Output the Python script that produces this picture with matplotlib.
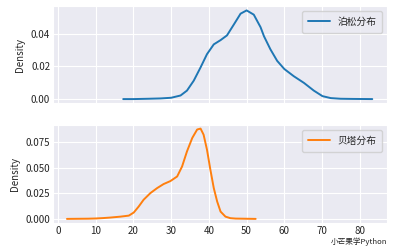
import matplotlib
matplotlib.use("Agg")
import matplotlib.pyplot as plt
import seaborn as sns

sns.set_style("darkgrid")
plt.rcParams['font.family'] = ['Noto Sans CJK SC', 'DejaVu Sans']
plt.rcParams['axes.unicode_minus'] = False

# KDE curve of the Poisson sample
poisson_x = [17.3, 20, 24, 27.2, 30, 32.5, 34.2, 36, 37.8, 39.5, 41.3, 43.1,
             44.8, 46.6, 48.4, 50, 51.9, 53.7, 54.6, 56.3, 58.1, 60, 62.5,
             65.2, 67.8, 70.1, 72.3, 74.9, 78, 83.3]
poisson_y = [0.0, 0.0, 0.0002, 0.0004, 0.0008, 0.0022, 0.0052, 0.0113, 0.0194,
             0.0275, 0.0335, 0.0361, 0.0390, 0.0456, 0.0523, 0.0543, 0.0517,
             0.0440, 0.0385, 0.0305, 0.0234, 0.0184, 0.0140, 0.0099, 0.0052,
             0.0018, 0.0006, 0.0002, 0.0001, 0.0]

# KDE curve of the Beta sample
beta_x = [2.4, 5, 8, 10, 12, 13.9, 16.6, 18.8, 20.1, 21.4, 22.7, 24.5, 26.3,
          28, 29.8, 31.6, 32.9, 34.2, 35.6, 36.9, 37.8, 38.6, 39.5, 40.4,
          41.3, 42.2, 43.1, 44.4, 45.7, 47.1, 52.4]
beta_y = [0.0, 0.0001, 0.0002, 0.0004, 0.0008, 0.0013, 0.0022, 0.0032, 0.0062,
          0.0120, 0.0186, 0.0251, 0.0300, 0.0339, 0.0368, 0.0413, 0.0510,
          0.0657, 0.0788, 0.0870, 0.0879, 0.0820, 0.0674, 0.0479, 0.0300,
          0.0169, 0.0071, 0.0022, 0.0007, 0.0003, 0.0]

labels = ['泊松分布', '贝塔分布']
x_ticks = [0, 10, 20, 30, 40, 50, 60, 70, 80]
y_ticks_top = [0.00, 0.02, 0.04]
y_ticks_bottom = [0.000, 0.025, 0.050, 0.075]

fig = plt.figure(figsize=(3.93, 2.46), dpi=100)
W, H = 393, 246
ax1 = fig.add_axes([53 / W, 1 - 103 / H, 334 / W, 97 / H])
ax2 = fig.add_axes([53 / W, 1 - 223 / H, 334 / W, 98 / H], sharex=ax1)

ax1.plot(poisson_x, poisson_y, color='#1f77b4', lw=1.4, label=labels[0],
         solid_joinstyle='round')
ax2.plot(beta_x, beta_y, color='#ff7f0e', lw=1.4, label=labels[1],
         solid_joinstyle='round')

ax1.set_xlim(-1.3, 87.2)
ax1.set_ylim(-0.0024, 0.057)
ax2.set_ylim(-0.0040, 0.0914)
ax1.set_xticks(x_ticks)
ax1.set_yticks(y_ticks_top)
ax1.set_yticklabels(['0.00', '0.02', '0.04'])
ax2.set_yticks(y_ticks_bottom)
ax2.set_yticklabels(['0.000', '0.025', '0.050', '0.075'])
plt.setp(ax1.get_xticklabels(), visible=False)

for ax in (ax1, ax2):
    ax.tick_params(labelsize=7, pad=2, length=0)
    ax.set_ylabel('Density', fontsize=7, labelpad=4)
    leg = ax.legend(loc='upper right', fontsize=7, frameon=True,
                    handlelength=2.2, borderpad=0.6)
    leg.get_frame().set_edgecolor('#cccccc')

fig.text(0.985, 0.0, '小芒果学Python', fontsize=5.5, color='#222222',
         ha='right', va='bottom')

fig.savefig('out.png', dpi=100)
